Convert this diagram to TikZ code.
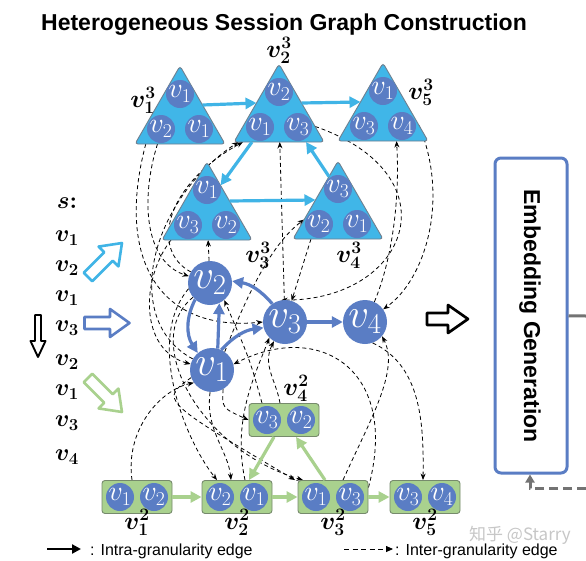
\RequirePackage{fix-cm}
\documentclass[tikz,border=0pt]{standalone}
\usepackage{bm}
\usepackage{fontspec}
\newfontfamily\hsans{Liberation Sans}
\newfontfamily\cjkfont{Noto Sans CJK SC}
\usetikzlibrary{arrows.meta,calc,shapes.geometric}
\pgfdeclarelayer{bg}
\pgfsetlayers{bg,main}
\definecolor{trifill}{RGB}{64,182,232}
\definecolor{tribd}{RGB}{112,128,144}
\definecolor{itm}{RGB}{90,125,196}
\definecolor{grnfill}{RGB}{169,209,142}
\definecolor{grnbd}{RGB}{118,138,108}
\definecolor{larr}{RGB}{64,180,230}
\definecolor{gry}{RGB}{115,115,115}
\begin{document}
\begin{tikzpicture}[x=1pt,y=-1pt,
  tri/.style={regular polygon, regular polygon sides=3, minimum size=104pt, inner sep=0pt, outer sep=0pt, draw=tribd, fill=trifill, line width=0.9pt, rounded corners=3pt},
  sc/.style={circle, fill=itm, minimum size=28pt, inner sep=0pt, text=white, font=\fontsize{28}{28}\selectfont},
  bc/.style={circle, fill=itm, minimum size=44pt, inner sep=0pt, text=white, font=\fontsize{41}{41}\selectfont},
  grect/.style={rectangle, rounded corners=3pt, fill=grnfill, draw=grnbd, line width=0.9pt, minimum width=70pt, minimum height=33pt, inner sep=0pt},
  lab/.style={inner sep=0pt, font=\fontsize{25}{25}\selectfont},
  seq/.style={inner sep=0pt, font=\fontsize{24}{24}\selectfont},
  barrow/.style={draw=larr, line width=3.2pt, -{Triangle[length=11pt,width=11pt]}},
  iarrow/.style={draw=itm, line width=3.2pt, -{Triangle[length=11pt,width=11pt]}},
  garrow/.style={draw=grnfill, line width=3.2pt, -{Triangle[length=11pt,width=11pt]}},
  dedge/.style={draw=black, line width=0.8pt, dash pattern=on 4pt off 3pt, -{Stealth[length=6.5pt,width=5pt]}},
  harrow/.style={line width=2.6pt, fill=white, line join=round},
]
\useasboundingbox (0,0) rectangle (586,560);
\begin{pgfonlayer}{bg}
\fill[white] (0,0) rectangle (586,560);
\end{pgfonlayer}

% title
\node[anchor=base, inner sep=0pt, font=\hsans\bfseries\fontsize{23}{23}\selectfont] (title) at (284,30) {Heterogeneous Session Graph Construction};

% triangles (granularity 3)
\node[tri] (t1) at (180,118) {};
\node[tri] (t2) at (279,116) {};
\node[tri] (t5) at (383,115) {};
\node[tri] (t3) at (207,214) {};
\node[tri] (t4) at (338,213) {};

\node[sc] (t1a) at ($(t1)+(0,-24)$) {$v_1$};
\node[sc] (t1b) at ($(t1)+(-19,11)$) {$v_2$};
\node[sc] (t1c) at ($(t1)+(19,11)$) {$v_1$};
\node[sc] (t2a) at ($(t2)+(0,-24)$) {$v_2$};
\node[sc] (t2b) at ($(t2)+(-19,11)$) {$v_1$};
\node[sc] (t2c) at ($(t2)+(19,11)$) {$v_3$};
\node[sc] (t5a) at ($(t5)+(0,-24)$) {$v_1$};
\node[sc] (t5b) at ($(t5)+(-19,11)$) {$v_3$};
\node[sc] (t5c) at ($(t5)+(19,11)$) {$v_4$};
\node[sc] (t3a) at ($(t3)+(0,-24)$) {$v_1$};
\node[sc] (t3b) at ($(t3)+(-19,11)$) {$v_3$};
\node[sc] (t3c) at ($(t3)+(19,11)$) {$v_2$};
\node[sc] (t4a) at ($(t4)+(0,-24)$) {$v_3$};
\node[sc] (t4b) at ($(t4)+(-19,11)$) {$v_2$};
\node[sc] (t4c) at ($(t4)+(19,11)$) {$v_1$};

\node[lab] (l13) at (143,100) {$\bm{v}_{\bm 1}^{\bm 3}$};
\node[lab] (l23) at (279,50) {$\bm{v}_{\bm 2}^{\bm 3}$};
\node[lab] (l53) at (421,92) {$\bm{v}_{\bm 5}^{\bm 3}$};
\node[lab] (l33) at (258,255) {$\bm{v}_{\bm 3}^{\bm 3}$};
\node[lab] (l43) at (349,255) {$\bm{v}_{\bm 4}^{\bm 3}$};

% items
\node[bc] (i2) at (210,283) {$v_2$};
\node[bc] (i3) at (285,322) {$v_3$};
\node[bc] (i4) at (365,322) {$v_4$};
\node[bc] (i1) at (212,370) {$v_1$};

% granularity 2
\node[grect] (g4) at (284,420) {};
\node[sc] (g4a) at ($(g4)+(-17,0)$) {$v_3$};
\node[sc] (g4b) at ($(g4)+(17,0)$) {$v_2$};
\node[grect] (g1) at (137,497) {};
\node[sc] (g1a) at ($(g1)+(-17,0)$) {$v_1$};
\node[sc] (g1b) at ($(g1)+(17,0)$) {$v_2$};
\node[grect] (g2) at (237,497) {};
\node[sc] (g2a) at ($(g2)+(-17,0)$) {$v_2$};
\node[sc] (g2b) at ($(g2)+(17,0)$) {$v_1$};
\node[grect] (g3) at (333,497) {};
\node[sc] (g3a) at ($(g3)+(-17,0)$) {$v_1$};
\node[sc] (g3b) at ($(g3)+(17,0)$) {$v_3$};
\node[grect] (g5) at (425,497) {};
\node[sc] (g5a) at ($(g5)+(-17,0)$) {$v_3$};
\node[sc] (g5b) at ($(g5)+(17,0)$) {$v_4$};

\node[lab] (l42) at (296,388) {$\bm{v}_{\bm 4}^{\bm 2}$};
\node[lab] (l12) at (137,522) {$\bm{v}_{\bm 1}^{\bm 2}$};
\node[lab] (l22) at (237,522) {$\bm{v}_{\bm 2}^{\bm 2}$};
\node[lab] (l32) at (333,522) {$\bm{v}_{\bm 3}^{\bm 2}$};
\node[lab] (l52) at (425,522) {$\bm{v}_{\bm 5}^{\bm 2}$};

% session sequence
\node[seq] (s0) at (67,203) {$\bm{s}{\bm{:}}$};
\node[seq] (q1) at (67,238) {$\bm{v}_{\bm 1}$};
\node[seq] (q2) at (67,268) {$\bm{v}_{\bm 2}$};
\node[seq] (q3) at (67,298) {$\bm{v}_{\bm 1}$};
\node[seq] (q4) at (67,328) {$\bm{v}_{\bm 3}$};
\node[seq] (q5) at (67,362) {$\bm{v}_{\bm 2}$};
\node[seq] (q6) at (67,392) {$\bm{v}_{\bm 1}$};
\node[seq] (q7) at (67,423) {$\bm{v}_{\bm 3}$};
\node[seq] (q8) at (67,457) {$\bm{v}_{\bm 4}$};

% hollow arrows
\begin{scope}[shift={(105,260)},rotate=45]
\draw[harrow, draw=larr] (-24,-6) -- (5,-6) -- (5,-14) -- (24,0) -- (5,14) -- (5,6) -- (-24,6) -- cycle;
\end{scope}
\begin{scope}[shift={(107,323)}]
\draw[harrow, draw=itm] (-22.5,-6) -- (3,-6) -- (3,-14) -- (22.5,0) -- (3,14) -- (3,6) -- (-22.5,6) -- cycle;
\end{scope}
\begin{scope}[shift={(105,395)},rotate=-45]
\draw[harrow, draw=grnfill] (-24,-6) -- (5,-6) -- (5,-14) -- (24,0) -- (5,14) -- (5,6) -- (-24,6) -- cycle;
\end{scope}
\begin{scope}[shift={(38,336)},rotate=-90]
\draw[harrow, line width=1.9pt, draw=black] (-21,-3) -- (5,-3) -- (5,-7.5) -- (21,0) -- (5,7.5) -- (5,3) -- (-21,3) -- cycle;
\end{scope}
\begin{scope}[shift={(447.5,319)}]
\draw[harrow, line width=2.7pt, draw=black] (-20.5,-6) -- (0.5,-6) -- (0.5,-14) -- (20.5,0) -- (0.5,14) -- (0.5,6) -- (-20.5,6) -- cycle;
\end{scope}

% embedding box
\node[draw=itm, line width=3pt, rounded corners=6pt, minimum width=72pt, minimum height=315pt, inner sep=0pt, fill=white] (emb) at (531,315.5) {};
\node[rotate=-90, inner sep=0pt, font=\hsans\bfseries\fontsize{23}{23}\selectfont] (embt) at (530,316) {Embedding Generation};
\coordinate (er) at (586,316);
\coordinate (eb) at (586,488);
\draw[draw=gry, line width=3pt] (emb) -- (er);
\draw[draw=gry, line width=3pt, dash pattern=on 9pt off 5pt, -{Triangle[length=8pt,width=9pt]}] (eb) -| ([xshift=-1pt]emb.south);

% intra-granularity edges
\draw[barrow] (t1.side 3) -- (t2.side 1);
\draw[barrow] (t2.side 3) -- (t5.side 1);
\draw[barrow] ($(t2.corner 2)!0.2!(t2.corner 3)$) -- ($(t3.corner 1)!0.3!(t3.corner 3)$);
\draw[barrow] ($(t4.corner 1)!0.2!(t4.corner 2)$) -- ($(t2.corner 2)!0.8!(t2.corner 3)$);
\draw[barrow] (t3.side 3) -- (t4.side 1);

\draw[iarrow] (i3) -- (i4);
\draw[iarrow] (i3.125) to[bend right=20] (i2.5);
\draw[iarrow] (i1.65) to[bend left=20] (i3.195);
\draw[iarrow] (i1.75) -- (i2.-65);
\draw[iarrow] (i2.228) to[bend right=30] (i1.130);

\draw[garrow] (g1) -- (g2);
\draw[garrow] (g2) -- (g3);
\draw[garrow] (g3) -- (g5);
\draw[garrow] ([xshift=-10pt]g4.south) -- ([xshift=12pt]g2.north);
\draw[garrow] ([xshift=-8pt]g3.north) -- ([xshift=12pt]g4.south);

% inter-granularity edges
\begin{pgfonlayer}{bg}
\draw[dedge] ($(t1.corner 2)!0.25!(t1.corner 3)$) .. controls (140,200) and (145,262) .. (i2);
\draw[dedge] ($(t1.corner 2)!0.12!(t1.corner 3)$) .. controls (115,260) and (160,332) .. (i3.west);
\draw[dedge] ($(t3.corner 2)!0.1!(t3.corner 3)$) .. controls (140,280) and (140,350) .. (i1);
\draw[dedge] (i1.150) .. controls (120,320) and (150,200) .. ($(t2.corner 2)!0.05!(t2.corner 3)$);
\draw[dedge] (i2.150) .. controls (150,250) and (165,185) .. ($(t2.corner 2)!0.1!(t2.corner 3)$);
\draw[dedge] (i2) -- (t3);
\draw[dedge] (i3) -- (t2);
\draw[dedge] ($(t4.corner 2)!0.2!(t4.corner 3)$) -- (i3);
\draw[dedge] (i1.55) .. controls (245,300) and (270,245) .. ($(t4.corner 1)!0.75!(t4.corner 2)$);
\draw[dedge] ($(t2.corner 1)!0.8!(t2.corner 3)$) .. controls (455,175) and (410,300) .. (i3.100);
\draw[dedge] (i4.65) .. controls (392,260) and (400,200) .. ($(t5.corner 2)!0.65!(t5.corner 3)$);
\draw[dedge] ($(t5.corner 1)!0.8!(t5.corner 3)$) .. controls (450,200) and (425,280) .. (i4.35);
\draw[dedge] ([xshift=-5pt]g1.north) .. controls (125,430) and (160,390) .. (i1.215);
\draw[dedge] (g3.15) .. controls (400,370) and (320,320) .. (i1.15);
\draw[dedge] ([xshift=10pt]g3.north) .. controls (370,420) and (400,370) .. (i4.-40);
\draw[dedge] (i4.-70) .. controls (420,365) and (424,420) .. ([xshift=-2pt]g5.north);
\draw[dedge] (i1.-60) .. controls (222,408) .. (g4.west);
\draw[dedge] ([xshift=-4pt]g4.north) .. controls (276,380) and (262,365) .. (i3.-120);
\draw[dedge] (i2.195) .. controls (145,340) and (185,440) .. ([xshift=-20pt]g2.north);
\draw[dedge] (i1.-95) .. controls (205,430) and (228,450) .. ([xshift=-6pt]g2.north);
\draw[dedge] (i2.220) .. controls (140,340) and (200,450) .. ([xshift=-30pt]g3.north);
\draw[dedge] (i1.200) .. controls (160,400) .. ([xshift=-38pt]g3.north);
\draw[dedge] ([xshift=-22pt]g4.north) .. controls (250,360) .. (i2.-50);
\draw[dedge] ([xshift=8pt]g2.north) .. controls (232,420) and (255,375) .. (i3.-135);
\end{pgfonlayer}

% legend
\coordinate (la) at (47,549);
\coordinate (lb) at (81,549);
\draw[line width=2.8pt, -{Triangle[length=9pt,width=9pt]}] (la) -- (lb);
\node[anchor=base west, inner sep=0pt, font=\hsans\fontsize{16}{16}\selectfont] (lt1) at (90,555) {: Intra-granularity edge};
\coordinate (lc) at (344,549);
\coordinate (ld) at (393,549);
\draw[line width=0.8pt, dash pattern=on 5pt off 3.5pt, -{Triangle[length=7pt,width=6pt]}] (lc) -- (ld);
\node[anchor=base west, inner sep=0pt, font=\hsans\fontsize{16}{16}\selectfont] (lt2) at (395,555) {: Inter-granularity edge};

% watermark
\node[text=black!22, inner sep=0pt, font=\cjkfont\fontsize{17}{17}\selectfont] (wm) at (520,535) {知乎 @Starry};
\end{tikzpicture}
\end{document}
